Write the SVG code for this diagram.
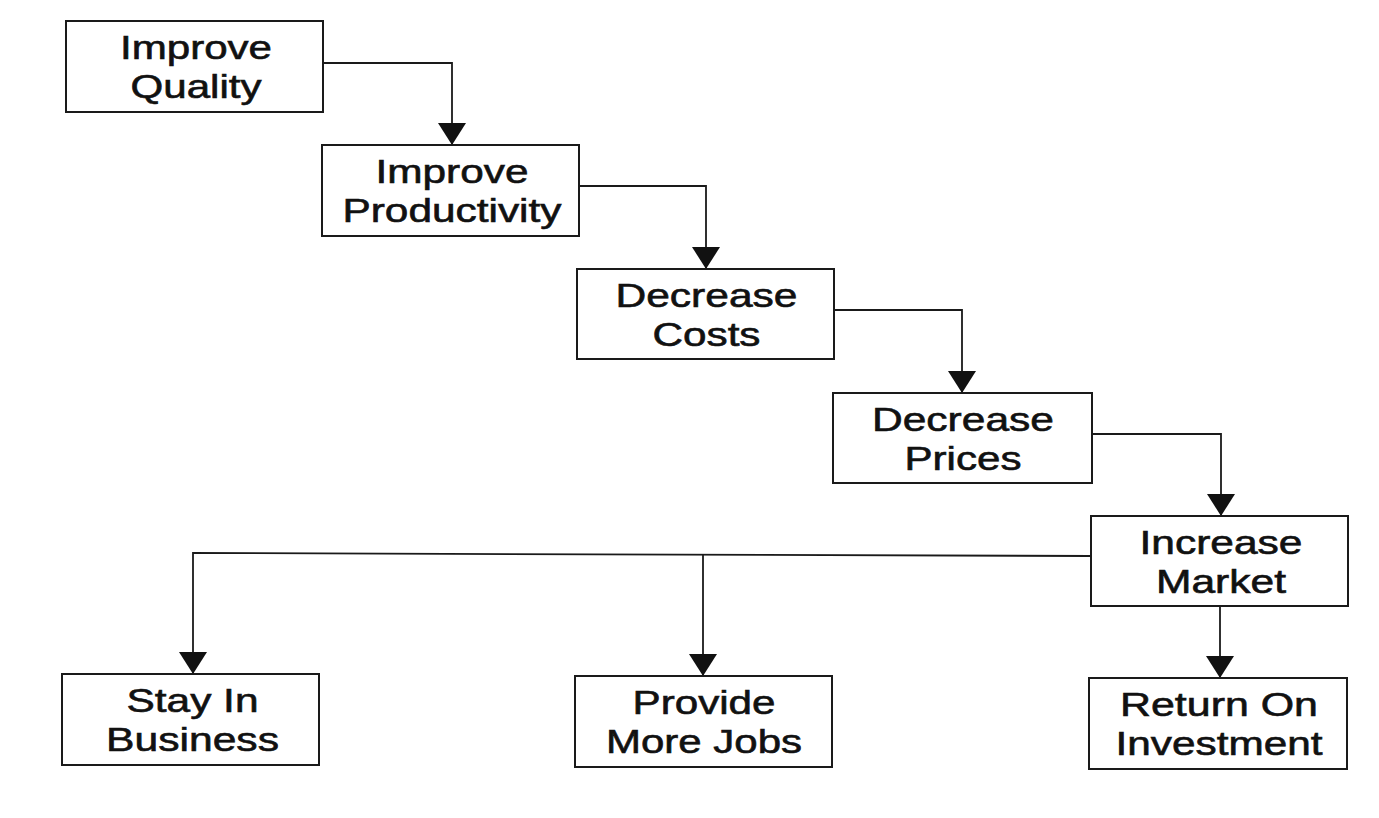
<svg xmlns="http://www.w3.org/2000/svg" width="1379" height="818" viewBox="0 0 1379 818">
<defs>
<marker id="arr" markerUnits="userSpaceOnUse" markerWidth="22" markerHeight="28" refX="22" refY="14" orient="auto" viewBox="0 0 22 28">
<path d="M0,0 L22,14 L0,28 z" fill="#111"/>
</marker>
<style>
rect.box{fill:#fff;stroke:#1a1a1a;stroke-width:2}
text{font-family:"Liberation Sans",Arial,sans-serif;font-size:33px;fill:#111;stroke:#111;stroke-width:0.6;text-anchor:middle}
.con path{fill:none;stroke:#1a1a1a;stroke-width:1.8}
</style>
</defs>
<rect width="1379" height="818" fill="#fff"/>
<g class="con" id="connectors">
<path d="M323,63 L452,63 L452,145" marker-end="url(#arr)"/>
<path d="M579,186 L706,186 L706,269" marker-end="url(#arr)"/>
<path d="M834,310 L962,310 L962,393" marker-end="url(#arr)"/>
<path d="M1092,434 L1221,434 L1221,516" marker-end="url(#arr)"/>
<path d="M1091,556 L193,553 L193,674" marker-end="url(#arr)"/>
<path d="M703,554.5 L703,676" marker-end="url(#arr)"/>
<path d="M1220,606 L1220,678" marker-end="url(#arr)"/>
</g>
<g id="n1"><rect class="box" x="66" y="21" width="257" height="91"/>
<text x="196" y="59" textLength="152" lengthAdjust="spacingAndGlyphs">Improve</text>
<text x="196" y="98" textLength="131" lengthAdjust="spacingAndGlyphs">Quality</text></g>
<g id="n2"><rect class="box" x="322" y="145" width="257" height="91"/>
<text x="452" y="183" textLength="153" lengthAdjust="spacingAndGlyphs">Improve</text>
<text x="452" y="222" textLength="219" lengthAdjust="spacingAndGlyphs">Productivity</text></g>
<g id="n3"><rect class="box" x="577" y="269" width="257" height="90"/>
<text x="706.5" y="307" textLength="182" lengthAdjust="spacingAndGlyphs">Decrease</text>
<text x="706.5" y="346" textLength="108" lengthAdjust="spacingAndGlyphs">Costs</text></g>
<g id="n4"><rect class="box" x="833" y="393" width="259" height="90"/>
<text x="963" y="431" textLength="182" lengthAdjust="spacingAndGlyphs">Decrease</text>
<text x="963" y="470" textLength="117" lengthAdjust="spacingAndGlyphs">Prices</text></g>
<g id="n5"><rect class="box" x="1091" y="516" width="257" height="90"/>
<text x="1221" y="554" textLength="163" lengthAdjust="spacingAndGlyphs">Increase</text>
<text x="1221" y="593" textLength="130" lengthAdjust="spacingAndGlyphs">Market</text></g>
<g id="n6"><rect class="box" x="62" y="674" width="257" height="91"/>
<text x="192.5" y="712" textLength="132" lengthAdjust="spacingAndGlyphs">Stay In</text>
<text x="192.5" y="751" textLength="173" lengthAdjust="spacingAndGlyphs">Business</text></g>
<g id="n7"><rect class="box" x="575" y="676" width="257" height="91"/>
<text x="704" y="714" textLength="143" lengthAdjust="spacingAndGlyphs">Provide</text>
<text x="704" y="753" textLength="196" lengthAdjust="spacingAndGlyphs">More Jobs</text></g>
<g id="n8"><rect class="box" x="1089" y="678" width="258" height="91"/>
<text x="1219" y="716" textLength="198" lengthAdjust="spacingAndGlyphs">Return On</text>
<text x="1219" y="755" textLength="207" lengthAdjust="spacingAndGlyphs">Investment</text></g>
</svg>
